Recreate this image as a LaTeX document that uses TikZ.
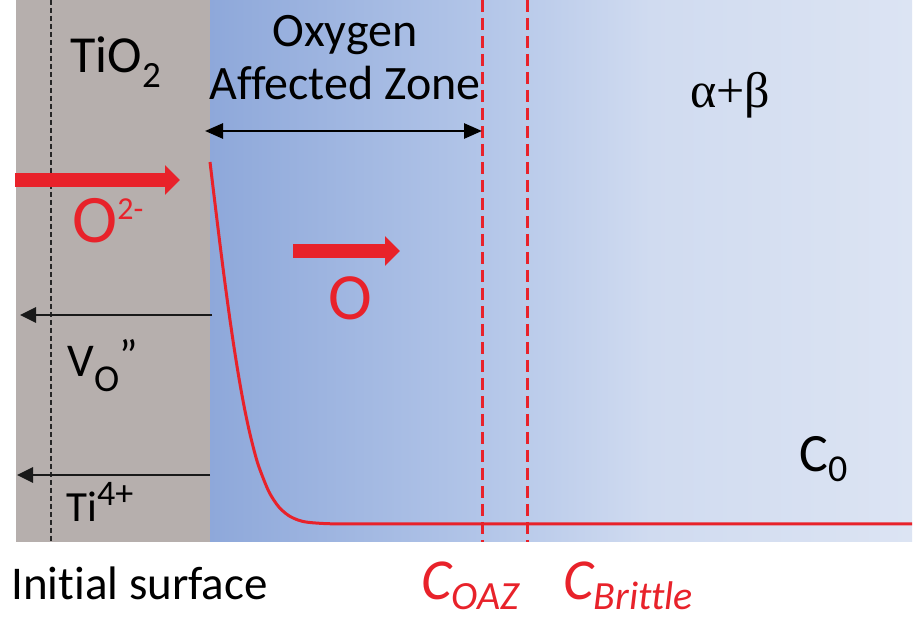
\documentclass[tikz,border=0pt]{standalone}
\usepackage{fontspec}
\setmainfont{Carlito}[Ligatures={NoCommon}]
\newfontfamily\greekfont{Liberation Serif}
\usetikzlibrary{arrows.meta}
\definecolor{oxred}{RGB}{232,34,42}
\definecolor{oxgrey}{RGB}{182,175,173}
\definecolor{blueA}{RGB}{142,168,218}
\definecolor{blueB}{RGB}{178,197,232}
\definecolor{blueC}{RGB}{208,219,240}
\definecolor{blueD}{RGB}{220,228,243}
\newcommand{\fs}[1]{\fontsize{#1}{#1}\selectfont}
\tikzset{
  lbl/.style={inner sep=0pt, anchor=base west, text=black},
  redlbl/.style={inner sep=0pt, anchor=base west, text=oxred},
  bigred/.style={oxred, line width=7pt, -{Triangle[length=7.5pt, width=14.5pt]}},
  blkarrow/.style={black!90, line width=1.4pt, -{Triangle[length=8pt, width=7.5pt]}},
  zonearrow/.style={black, line width=1.4pt, {Triangle[length=9pt, width=7.5pt]}-{Triangle[length=9pt, width=7.5pt]}},
  limitline/.style={oxred, line width=1.5pt, dash pattern=on 6pt off 3pt},
  curve/.style={oxred, line width=1.5pt}
}
\begin{document}
\begin{tikzpicture}[x=0.5pt, y=-0.5pt]
\useasboundingbox (0,0) rectangle (918,630);
\fill[white] (0,0) rectangle (918,630);
% regions
\fill[oxgrey] (16,0) rectangle (210,542);
\shade[left color=blueA, right color=blueB] (210,0) rectangle (480,542);
\shade[left color=blueB, right color=blueC] (479.5,0) rectangle (650,542);
\shade[left color=blueC, right color=blueD] (649.5,0) rectangle (912,542);
% initial surface
\draw[black!85, line width=1pt, dash pattern=on 2.5pt off 1.5pt] (51,0) -- (51,542);
% limit lines
\coordinate (oazT) at (482,0); \coordinate (oazB) at (482,542);
\coordinate (brT) at (527,0); \coordinate (brB) at (527,542);
\draw[limitline] (oazT) -- (oazB);
\draw[limitline] (brT) -- (brB);
% concentration profile
\draw[curve] plot[smooth, tension=0.5] coordinates {(210,162) (214.9,202.7) (219.8,242.6) (224.7,281.0) (229.6,317.1) (234.5,350.4) (239.4,380.6) (244.3,407.4) (249.2,430.6) (254.1,450.5) (259,467.1) (268.8,491.5) (278.6,506.7) (288.4,515.4) (298.2,520.1) (308,522.3) (327.6,523.7) (357,524)} -- (912,524);
% texts
\node[lbl] (tio2) at (70,73) {\fs{26pt}TiO\raisebox{-7.5pt}{\fs{18.5pt}2}};
\node[lbl, anchor=base] (oxy) at (345,47) {\fs{24pt}Oxygen};
\node[lbl, anchor=base] (aff) at (345,100) {\fs{24pt}Affected Zone};
\coordinate (zl) at (205,131); \coordinate (zr) at (482,131);
\draw[zonearrow] (zl) -- (zr);
% O2- flux
\coordinate (a1s) at (15,180); \coordinate (a1e) at (180,180);
\draw[bigred] (a1s) -- (a1e);
\node[redlbl] (o2m) at (72,243) {\fs{34pt}O\raisebox{11.5pt}{\fs{16pt}2-}};
% O flux
\coordinate (a2s) at (293,251); \coordinate (a2e) at (400,251);
\draw[bigred] (a2s) -- (a2e);
\node[redlbl] (ox) at (328,320) {\fs{33pt}O};
% vacancy and Ti flux
\coordinate (v1) at (212,315); \coordinate (v2) at (20,315);
\draw[blkarrow] (v1) -- (v2);
\node[lbl] (vo) at (67,377) {\fs{23.5pt}V\raisebox{-7.5pt}{\fs{19pt}O}\raisebox{3pt}{\fs{22pt}”}};
\coordinate (t1) at (210,475); \coordinate (t2) at (17,475);
\draw[blkarrow] (t1) -- (t2);
\node[lbl] (ti) at (66,522) {\fs{21.5pt}Ti\raisebox{8pt}{\fs{18pt}4+}};
% phases
\node[lbl] (ab) at (690,108) {\greekfont\fs{25pt}α+β};
\node[lbl] (c0) at (799,472) {\fs{27pt}C\raisebox{-5pt}{\fs{19pt}0}};
% bottom labels
\node[lbl] (init) at (11,600) {\fs{23.5pt}Initial surface};
\node[redlbl] (coaz) at (421,600) {\fs{29pt}\itshape C\raisebox{-5pt}{\fs{20pt}OAZ}};
\node[redlbl] (cbr) at (563,600) {\fs{29pt}\itshape C\raisebox{-5pt}{\fs{20pt}Brittle}};
\end{tikzpicture}
\end{document}
